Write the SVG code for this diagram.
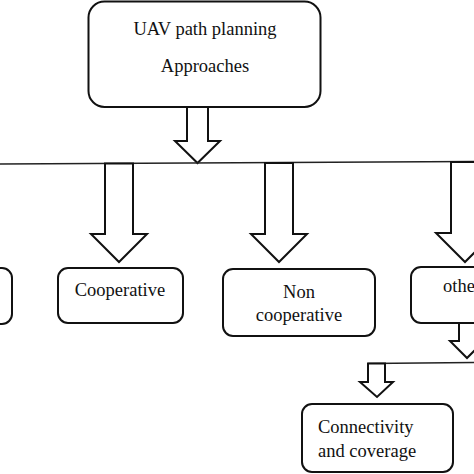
<svg xmlns="http://www.w3.org/2000/svg" width="474" height="474" viewBox="0 0 474 474">
<style>
.box{fill:#fff;stroke:#111;stroke-width:2}
.arr{fill:#fff;stroke:#111;stroke-width:2;stroke-linejoin:miter}
.ln{fill:none;stroke:#222;stroke-width:1.5}
.t{font-family:'Liberation Serif','Times New Roman',serif;font-size:18.5px;fill:#111}
</style>
<rect width="474" height="474" fill="#fff"/>
<g id="connectors">
<polygon class="arr" points="187,107 208,107 208,141 220,141 197.5,163 175,141 187,141"/>
<path class="ln" d="M0,164 L474,161.5"/>
<polygon class="arr" points="105,163.5 133,163.5 133,234 147,234 119,262 91,234 105,234"/>
<polygon class="arr" points="265,163 293,163 293,234 307,234 279,262 251,234 265,234"/>
<polygon class="arr" points="451,162 480,162 480,233 494,233 465,262 436,233 451,233"/>
<polygon class="arr" points="459,323 476,323 476,341 484,341 467,358 450,341 459,341"/>
<path class="ln" d="M368,363.5 L474,362.5"/>
<polygon class="arr" points="368,363.5 385,363.5 385,382 393,382 377,397 360,382 368,382"/>
</g>
<g id="root">
<rect class="box" x="88.5" y="1.5" width="232" height="105.5" rx="16"/>
<text class="t" x="205" y="35" text-anchor="middle">UAV path planning</text>
<text class="t" x="205" y="72" text-anchor="middle">Approaches</text>
</g>
<g id="left">
<rect class="box" x="-30" y="268" width="42" height="56" rx="10"/>
</g>
<g id="cooperative">
<rect class="box" x="58" y="268" width="125" height="55" rx="10"/>
<text class="t" x="120" y="296" text-anchor="middle">Cooperative</text>
</g>
<g id="noncooperative">
<rect class="box" x="223" y="269" width="152" height="67" rx="10"/>
<text class="t" x="299" y="298" text-anchor="middle">Non</text>
<text class="t" x="299" y="321" text-anchor="middle">cooperative</text>
</g>
<g id="others">
<rect class="box" x="411" y="267" width="100" height="56" rx="10"/>
<text class="t" x="443" y="292">others</text>
</g>
<g id="connectivity">
<rect class="box" x="302" y="404" width="151" height="68" rx="10"/>
<text class="t" x="318" y="433">Connectivity</text>
<text class="t" x="318" y="457">and coverage</text>
</g>
</svg>
